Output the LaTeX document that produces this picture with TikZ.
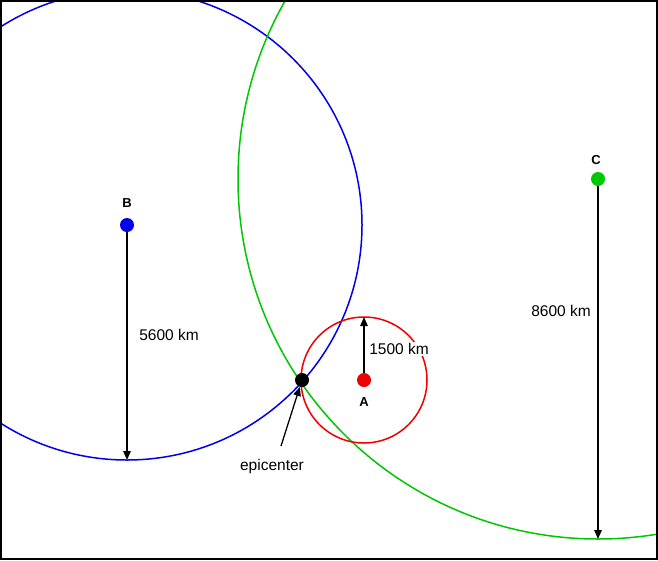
\documentclass[tikz,border=0pt]{standalone}
\usepackage{fontspec}
\setmainfont{Liberation Sans}
\usetikzlibrary{arrows.meta}
\definecolor{cblue}{RGB}{0,0,235}
\definecolor{cred}{RGB}{240,0,0}
\definecolor{cgreen}{RGB}{0,200,0}
\tikzset{
  dot/.style={circle,inner sep=0pt,minimum size=14pt},
  ring/.style={line width=1.5pt},
  arr/.style={line width=1.3pt,-{Triangle[length=9pt,width=7.5pt]}},
  lbl/.style={inner sep=1pt,font=\fontsize{15.5}{18}\selectfont},
  stationlbl/.style={inner sep=0pt,font=\fontsize{13}{15}\selectfont\bfseries},
}
\begin{document}
\begin{tikzpicture}[x=1pt,y=-1pt]
\useasboundingbox (0,0) rectangle (658,560);
\coordinate (A) at (364,380);
\coordinate (B) at (127,225);
\coordinate (C) at (598,179);
\begin{scope}
\clip (1,1) rectangle (656.5,558.5);
\draw[ring,cblue] (B) circle[radius=235];
\draw[ring,cgreen] (C) circle[radius=360];
\draw[ring,cred] (A) circle[radius=63];
\end{scope}
\draw[line width=2pt] (1,1) rectangle (656.5,558.5);
\coordinate (Bend) at (127,460);
\coordinate (Cend) at (598,539);
\coordinate (Aend) at (364,317);
\node[dot,fill=cblue] (Bdot) at (B) {};
\node[dot,fill=cgreen] (Cdot) at (C) {};
\node[dot,fill=cred] (Adot) at (A) {};
\node[dot,fill=black] (E) at (302,380) {};
\draw[arr] (Bdot) -- (Bend);
\draw[arr] (Cdot) -- (Cend);
\draw[arr] (Adot) -- (Aend);
\node[stationlbl] (Bl) at (127,203) {B};
\node[stationlbl] (Cl) at (596,160) {C};
\node[stationlbl] (Al) at (364,402) {A};
\node[lbl] (d5600) at (169,335) {5600 km};
\node[lbl] (d8600) at (561,311) {8600 km};
\node[lbl,fill=white] (d1500) at (399,349) {1500 km};
\node[lbl] (epi) at (272,466) {epicenter};
\coordinate (epitail) at (281,446);
\draw[arr] (epitail) -- (E);
\end{tikzpicture}
\end{document}
